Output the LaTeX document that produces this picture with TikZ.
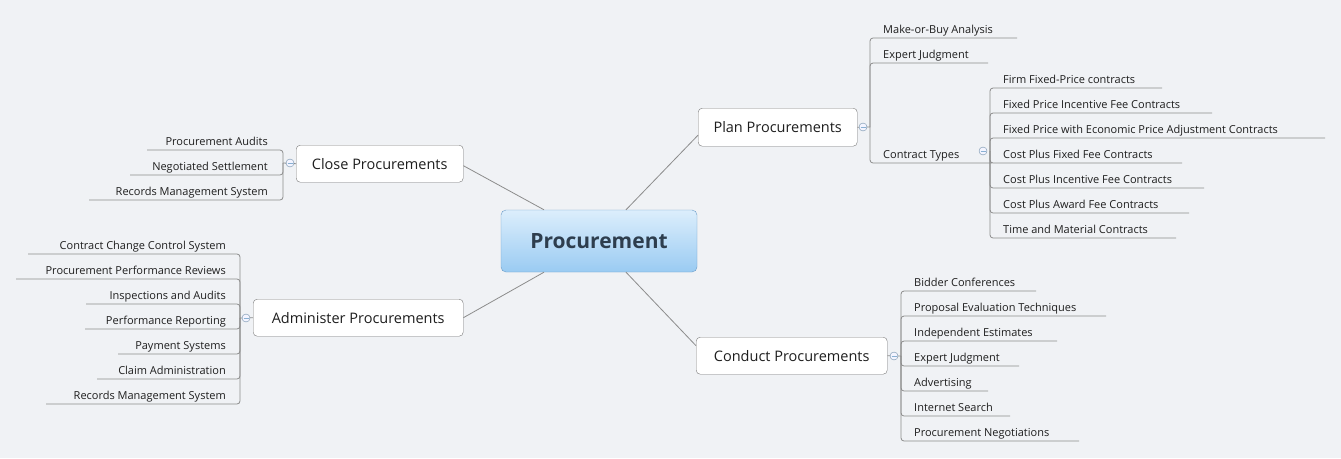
\documentclass[tikz,border=0pt]{standalone}
\usepackage{fontspec}
\setmainfont{Open Sans}
\usetikzlibrary{calc}
\definecolor{bg}{HTML}{F0F2F5}
\definecolor{ln}{HTML}{8C8C8C}
\definecolor{bx}{HTML}{7A7A7A}
\definecolor{tx}{HTML}{1E1E1E}
\definecolor{rtop}{HTML}{DCEEFC}
\definecolor{rbot}{HTML}{9ACBF2}
\definecolor{rbd}{HTML}{6A9CC8}
\definecolor{rtx}{HTML}{2E3E4E}
\tikzset{
 leaf/.style={font=\fontsize{11}{13}\selectfont,text=tx,inner sep=0pt},
 lleaf/.style={leaf,anchor=base east},
 rleaf/.style={leaf,anchor=base west},
 branch/.style={draw=bx,fill=white,rounded corners=4pt,font=\fontsize{14.5}{17}\selectfont,text=tx,inner xsep=6pt,anchor=north west},
 conn/.style={draw=ln,line width=0.8pt},
 tree/.style={draw=ln,line width=0.8pt,rounded corners=3pt},
 coll/.style={circle,draw=bx!40!rbd,fill=rtop!60!blue!10,minimum size=8pt,inner sep=0pt,
   path picture={\draw[rbd!80] ($(path picture bounding box.west)+(1.5pt,0)$)--($(path picture bounding box.east)+(-1.5pt,0)$);}},
}
\begin{document}
\begin{tikzpicture}[x=1pt,y=-1pt]
\fill[bg] (0,0) rectangle (1341,458);
\useasboundingbox (0,0) rectangle (1341,458);
% root
\node[draw=rbd,top color=rtop,bottom color=rbot,rounded corners=5pt,minimum width=196pt,minimum height=62pt,
 font=\fontsize{21}{24}\selectfont\bfseries,text=rtx] (root) at (599,241) {Procurement};
% branches
\node[branch,minimum width=159pt,minimum height=38pt] (plan) at (698,108) {Plan Procurements};
\node[branch,minimum width=167pt,minimum height=37pt] (close) at (296,145) {Close Procurements};
\node[branch,minimum width=210pt,minimum height=37pt] (adm) at (253,299) {Administer Procurements};
\node[branch,minimum width=191pt,minimum height=37pt] (cond) at (696,337) {Conduct Procurements};
\draw[conn] ($(root.north)+(27,0)$) coordinate (a1) -- ($(plan.west)+(0,8)$);
\draw[conn] ($(root.north)+(-55,0)$) -- ($(close.east)+(0,2)$);
\draw[conn] ($(root.south)+(-55,0)$) -- ($(adm.east)+(0,0)$);
\draw[conn] ($(root.south)+(27,0)$) -- ($(cond.west)+(0,-10)$);
% Plan
\draw[conn] (plan.east) -- (870,127);
\node[coll] (c1) at (863,127) {};
\foreach \n/\y/\e/\t in {p1/38/1017/Make-or-Buy Analysis,p2/63/988/Expert Judgment,p3/163/992/Contract Types}{
  \node[rleaf] (\n) at (883,\y-5) {\t};
  \draw[tree] (\e,\y) -| (870,127);
}
\node[coll] (c2) at (983,151) {};
\foreach \n/\y/\e/\t in {q1/88/1162/Firm Fixed-Price contracts,q2/113/1212/Fixed Price Incentive Fee Contracts,q3/138/1325/Fixed Price with Economic Price Adjustment Contracts,q4/163/1182/Cost Plus Fixed Fee Contracts,q5/188/1204/Cost Plus Incentive Fee Contracts,q6/213/1189/Cost Plus Award Fee Contracts,q7/238/1176/Time and Material Contracts}{
  \node[rleaf] (\n) at (1003,\y-5) {\t};
  \draw[tree] (\e,\y) -| (990,151);
}
% Conduct
\draw[conn] (cond.east) -- (901,356);
\node[coll] (c3) at (894,356) {};
\foreach \n/\y/\e/\t in {r1/291/1036/Bidder Conferences,r2/316/1106/Proposal Evaluation Techniques,r3/341/1057/Independent Estimates,r4/366/1019/Expert Judgment,r5/391/988/Advertising,r6/416/1010/Internet Search,r7/441/1079/Procurement Negotiations}{
  \node[rleaf] (\n) at (914,\y-5) {\t};
  \draw[tree] (\e,\y) -| (901,356);
}
% Close
\draw[conn] (close.west) -- (283,163);
\node[coll] (c4) at (290,163) {};
\foreach \n/\y/\e/\t in {s1/150/147/Procurement Audits,s2/175/130/Negotiated Settlement,s3/200/89/Records Management System}{
  \node[lleaf] (\n) at (268,\y-5) {\t};
  \draw[tree] (\e,\y) -| (283,163);
}
% Administer
\draw[conn] (adm.west) -- (240,318);
\node[coll] (c5) at (246,318) {};
\foreach \n/\y/\e/\t in {u1/254/28/Contract Change Control System,u2/279/16/Procurement Performance Reviews,u3/304/86/Inspections and Audits,u4/329/85/Performance Reporting,u5/354/118/Payment Systems,u6/379/97/Claim Administration,u7/404/46/Records Management System}{
  \node[lleaf] (\n) at (226,\y-5) {\t};
  \draw[tree] (\e,\y) -| (240,318);
}
\end{tikzpicture}
\end{document}
